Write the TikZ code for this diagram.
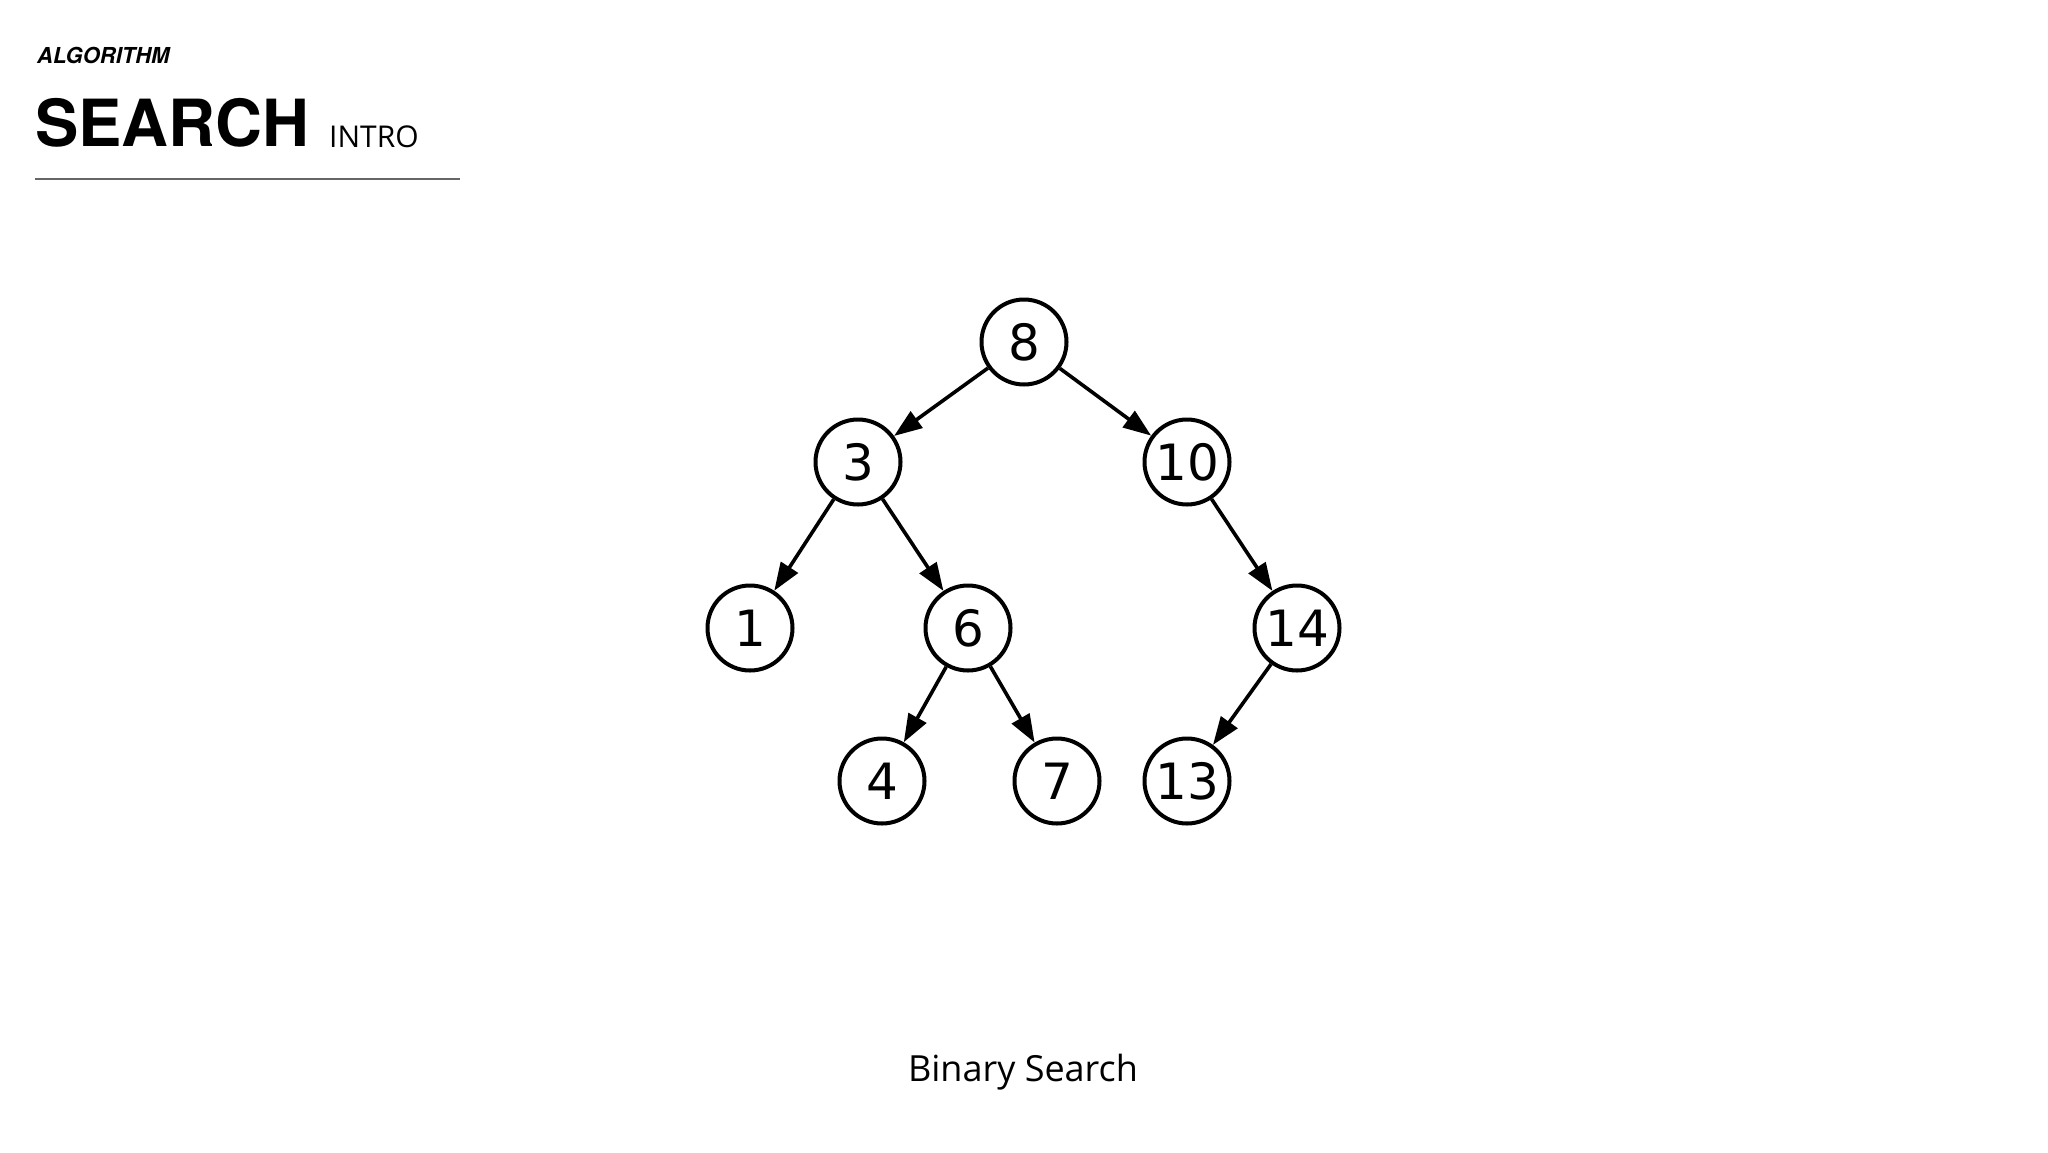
\documentclass[tikz,border=0pt]{standalone}
\usepackage{fontspec}
\setmainfont{Open Sans}
\newfontfamily\numfont{DejaVu Sans}
\newfontfamily\headfont{TeX Gyre Heros}
\usepackage{tikz}
\usetikzlibrary{arrows.meta,positioning}

\begin{document}
\begin{tikzpicture}[x=1pt,y=-1pt,
    key/.style={circle,draw,line width=4pt,minimum size=85pt,inner sep=0pt,
        font=\numfont\fontsize{50}{50}\selectfont},
    link/.style={line width=3.6pt,-{Triangle[length=28pt,width=20pt]}}]
    \useasboundingbox (0,0) rectangle (2048,1152);

    % Header
    \node[anchor=base west,inner sep=0pt,font=\headfont\fontsize{22}{22}\selectfont\bfseries\itshape]
        (topic) at (37,63) {ALGORITHM};
    \node[anchor=base west,inner sep=0pt,font=\headfont\fontsize{65}{65}\selectfont\bfseries]
        (title) at (35,146) {SEARCH};
    \node[anchor=base west,inner sep=0pt,font=\fontsize{30}{30}\selectfont]
        (sub) at (329,147) {INTRO};
    \draw[gray!80!black,line width=1.5pt] (35,179) -- (460,179);

    % Tree
    \node[key] (n8)  at (1024,342) {8};
    \node[key] (n3)  at (858,462)  {3};
    \node[key] (n10) at (1187,462) {10};
    \node[key] (n1)  at (750,628)  {1};
    \node[key] (n6)  at (968,628)  {6};
    \node[key] (n14) at (1297,628) {14};
    \node[key] (n4)  at (882,781)  {4};
    \node[key] (n7)  at (1057,781) {7};
    \node[key] (n13) at (1187,781) {13};

    \draw[link] (n8) -- (n3);
    \draw[link] (n8) -- (n10);
    \draw[link] (n3) -- (n1);
    \draw[link] (n3) -- (n6);
    \draw[link] (n10) -- (n14);
    \draw[link] (n6) -- (n4);
    \draw[link] (n6) -- (n7);
    \draw[link] (n14) -- (n13);

    % Caption
    \node[font=\fontsize{36}{36}\selectfont] (caption) at (1023,1072) {Binary Search};
\end{tikzpicture}
\end{document}
